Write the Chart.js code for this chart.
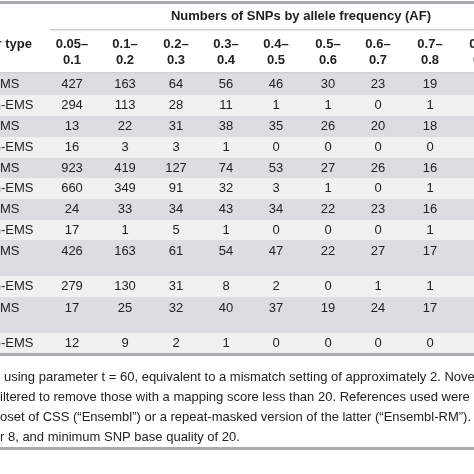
<!DOCTYPE html>
<html>
<head>
<meta charset="utf-8">
<script src="https://cdn.jsdelivr.net/npm/chart.js@4/dist/chart.umd.min.js"></script>
<style>
  body { margin: 0; background: #fff; }
  canvas { display: block; }
</style>
</head>
<body>
<canvas id="tbl" width="474" height="474"></canvas>
<script>
'use strict';
// table content
let afBins = [['0.05–', '0.1'], ['0.1–', '0.2'], ['0.2–', '0.3'], ['0.3–', '0.4'], ['0.4–', '0.5'],
  ['0.5–', '0.6'], ['0.6–', '0.7'], ['0.7–', '0.8'], ['0.8–', '0.9']];
let rowLabels = ['EMS', 'non-EMS', 'EMS', 'non-EMS', 'EMS', 'non-EMS', 'EMS', 'non-EMS',
  'EMS', 'non-EMS', 'EMS', 'non-EMS'];
let snpCounts = [
  [427, 163, 64, 56, 46, 30, 23, 19],
  [294, 113, 28, 11, 1, 1, 0, 1],
  [13, 22, 31, 38, 35, 26, 20, 18],
  [16, 3, 3, 1, 0, 0, 0, 0],
  [923, 419, 127, 74, 53, 27, 26, 16],
  [660, 349, 91, 32, 3, 1, 0, 1],
  [24, 33, 34, 43, 34, 22, 23, 16],
  [17, 1, 5, 1, 0, 0, 0, 1],
  [426, 163, 61, 54, 47, 22, 27, 17],
  [279, 130, 31, 8, 2, 0, 1, 1],
  [17, 25, 32, 40, 37, 19, 24, 17],
  [12, 9, 2, 1, 0, 0, 0, 0]
];
let headerTitle = 'Numbers of SNPs by allele frequency (AF)';
let headerFirst = 'Caller type';
let footnote = [
  'using parameter t = 60, equivalent to a mismatch setting of approximately 2. Novel',
  'iltered to remove those with a mapping score less than 20. References used were',
  'oset of CSS (“Ensembl”) or a repeat-masked version of the latter (“Ensembl-RM”).',
  'r 8, and minimum SNP base quality of 20.'
];

// layout (in 474x474 value space)
let colX = [72, 125, 176, 226, 276, 328, 378, 430, 482];
let rowTop = [73, 95, 116, 137, 158, 178, 199, 220, 240, 276, 297, 333];
let rowBottom = [95, 116, 137, 158, 178, 199, 220, 240, 276, 297, 333, 354];
let footY = [377, 397, 417, 437];
let footX = [4, 0, 0, 0];

let tablePlugin = {
  id: 'tablePlugin',
  beforeDatasetsDraw(chart) {
    let ctx = chart.ctx;
    let xs = chart.scales.x, ys = chart.scales.y;
    let px = v => xs.getPixelForValue(v);
    let py = v => ys.getPixelForValue(v);
    ctx.save();
    // row bands
    for (let i = 0; i < rowTop.length; i++) {
      ctx.fillStyle = i % 2 === 0 ? '#dcdde0' : '#f1f1f2';
      ctx.fillRect(px(0), py(rowTop[i]), px(474) - px(0), py(rowBottom[i]) - py(rowTop[i]));
    }
    // rules
    ctx.fillStyle = '#a9abae';
    ctx.fillRect(px(0), py(1), px(474), 3);
    ctx.fillRect(px(0), py(353), px(474), 3);
    ctx.fillRect(px(0), py(447), px(474), 3);
    ctx.fillStyle = '#d0d1d3';
    ctx.fillRect(px(50), py(29), px(474) - px(50), 1.5);
    ctx.fillRect(px(0), py(72), px(474), 1.5);

    ctx.fillStyle = '#222';
    ctx.textBaseline = 'middle';
    ctx.font = 'bold 13px "Liberation Sans", Arial, sans-serif';
    ctx.textAlign = 'center';
    ctx.fillText(headerTitle, px(301), py(16));
    for (let c = 0; c < afBins.length; c++) {
      ctx.fillText(afBins[c][0], px(colX[c]), py(44));
      ctx.fillText(afBins[c][1], px(colX[c]), py(60));
    }
    ctx.textAlign = 'right';
    ctx.fillText(headerFirst, px(32), py(44));

    ctx.font = '13px "Liberation Sans", Arial, sans-serif';
    for (let r = 0; r < snpCounts.length; r++) {
      let yMid = r === 8 || r === 10 ? rowTop[r] + 11 : (rowTop[r] + rowBottom[r]) / 2;
      ctx.textAlign = 'left';
      let lab = rowLabels[r];
      let cut = lab === 'EMS' ? ctx.measureText('E').width : ctx.measureText('non').width - 1;
      ctx.fillText(lab, px(0) - cut, py(yMid));
      ctx.textAlign = 'center';
      for (let c = 0; c < snpCounts[r].length; c++) {
        ctx.fillText(String(snpCounts[r][c]), px(colX[c]), py(yMid));
      }
    }

    ctx.font = '13px "Liberation Sans", Arial, sans-serif';
    ctx.textAlign = 'left';
    for (let i = 0; i < footnote.length; i++) {
      ctx.fillText(footnote[i], px(footX[i]), py(footY[i]));
    }
    ctx.restore();
  }
};

let chart = new Chart(document.getElementById('tbl').getContext('2d'), {
  type: 'scatter',
  data: { datasets: [{ data: [], pointRadius: 0 }] },
  options: {
    responsive: false,
    animation: false,
    layout: { padding: 0 },
    plugins: { legend: { display: false }, tooltip: { enabled: false } },
    scales: {
      x: { type: 'linear', min: 0, max: 474, display: false },
      y: { type: 'linear', min: 0, max: 474, reverse: true, display: false }
    }
  },
  plugins: [tablePlugin]
});
</script>
</body>
</html>
